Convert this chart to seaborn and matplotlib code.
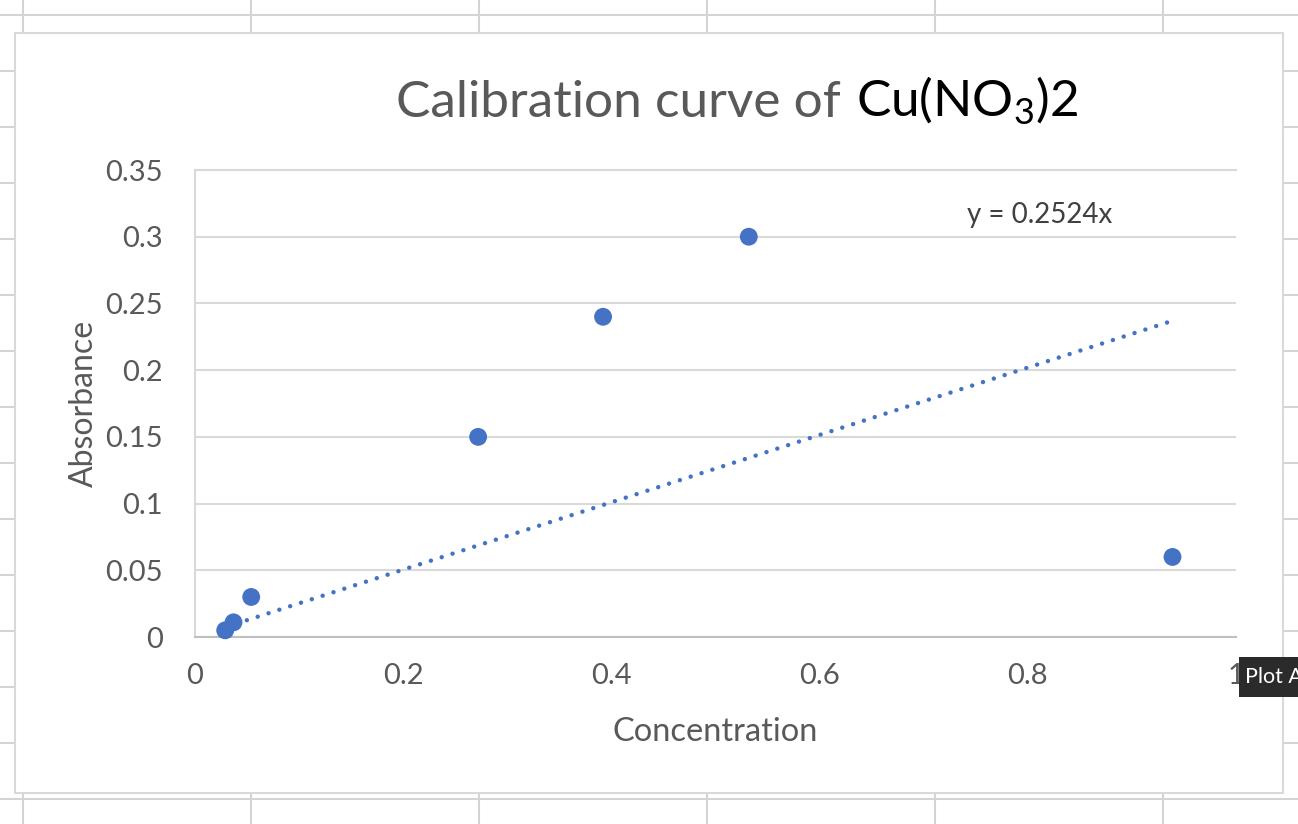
import numpy as np
import pandas as pd
import seaborn as sns
import matplotlib.pyplot as plt
from matplotlib.lines import Line2D
from matplotlib.patches import Rectangle
from matplotlib.ticker import FuncFormatter

# data
concentration = [0.029, 0.037, 0.054, 0.272, 0.392, 0.532, 0.939]
absorbance = [0.005, 0.011, 0.030, 0.150, 0.240, 0.300, 0.060]
slope = 0.2524  # trendline through origin
x_ticks = [0, 0.2, 0.4, 0.6, 0.8, 1.0]
y_ticks = [0, 0.05, 0.1, 0.15, 0.2, 0.25, 0.3, 0.35]

sns.set_theme(style="white")
plt.rcParams['font.family'] = ['Lato', 'DejaVu Sans']
plt.rcParams['mathtext.fontset'] = 'custom'
plt.rcParams['mathtext.rm'] = 'Lato'

W, H = 1298, 824
fig = plt.figure(figsize=(W / 100, H / 100), dpi=100)
fig.patch.set_facecolor('white')

def fx(px):
    return px / W

def fy(py):
    return 1 - py / H

# spreadsheet cell grid behind the chart
grid_c = '#d4d4d4'
for py in range(15, H, 56):
    fig.add_artist(Line2D([0, 1], [fy(py), fy(py)], color=grid_c, lw=1.5, zorder=-3))
for px in range(23, W, 228):
    fig.add_artist(Line2D([fx(px), fx(px)], [0, 1], color=grid_c, lw=1.5, zorder=-3))

# chart area box
fig.add_artist(Rectangle((fx(15), fy(793)), fx(1283) - fx(15), fy(33) - fy(793),
                         facecolor='white', edgecolor='#d9d9d9', lw=1.5, zorder=-2))

ax = fig.add_axes([fx(195), fy(637), fx(1236) - fx(195), fy(170) - fy(637)])
ax.set_zorder(0)

df = pd.DataFrame({'Concentration': concentration, 'Absorbance': absorbance})
sns.scatterplot(data=df, x='Concentration', y='Absorbance', ax=ax, s=165,
                color='#4472C4', edgecolor='none', zorder=4, clip_on=False)

xs = np.array([min(concentration), max(concentration)])
ax.plot(xs, slope * xs, color='#4472C4', lw=3.2, linestyle=(0, (0.01, 2.55)),
        dash_capstyle='round', zorder=3)

ax.set_xlim(0, 1)
ax.set_ylim(0, 0.35)
ax.set_xticks(x_ticks)
ax.set_yticks(y_ticks)
ax.xaxis.set_major_formatter(FuncFormatter(lambda v, p: '%g' % v))
ax.yaxis.set_major_formatter(FuncFormatter(lambda v, p: '%g' % v))
ax.grid(axis='y', color='#d9d9d9', lw=1.5)
ax.set_axisbelow(True)
for side in ['left', 'top', 'right']:
    ax.spines[side].set_color('#d9d9d9')
    ax.spines[side].set_linewidth(1.5)
ax.spines['right'].set_visible(False)
ax.spines['bottom'].set_color('#bfbfbf')
ax.spines['bottom'].set_linewidth(1.5)
ax.tick_params(axis='both', length=0, labelsize=21, labelcolor='#595959')
ax.tick_params(axis='x', pad=19)
ax.tick_params(axis='y', pad=23)
ax.set_xlabel('Concentration', fontsize=23.5, color='#595959', labelpad=20)
ax.set_ylabel('Absorbance', fontsize=23, color='#595959', labelpad=5)

ax.text(0.742, 0.3165, 'y = 0.2524x', fontsize=20, color='#404040', va='center')

# title: grey words then black formula
fig.text(fx(396), fy(103), 'Calibration curve of', fontsize=37, color='#595959', va='center')
fig.text(fx(856), fy(101), 'Cu(NO$_3$)2', fontsize=37, color='black', va='center')

# Excel hover tooltip
fig.add_artist(Rectangle((fx(1239), fy(697)), fx(W) - fx(1239), fy(657) - fy(697),
                         facecolor='#2b2b2b', edgecolor='none', zorder=5))
fig.text(fx(1245), fy(677), 'Plot A', fontsize=15.5, color='white', va='center',
         ha='left', zorder=6)

fig.savefig('out.png', dpi=100)
